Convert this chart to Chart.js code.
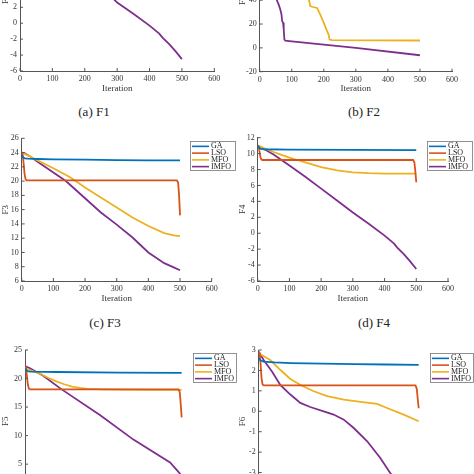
<!DOCTYPE html>
<html>
<head>
<meta charset="utf-8">
<script src="https://cdn.jsdelivr.net/npm/chart.js@4.4.1/dist/chart.umd.min.js"></script>
<style>
  html, body { margin: 0; padding: 0; background: #fff; }
  #wrap { position: relative; width: 474px; height: 474px; overflow: hidden; }
  canvas { position: absolute; }
  .cap { position: absolute; transform: translate(-50%, -50%); font: 13px 'Liberation Serif', 'Times New Roman', serif; color: #222; white-space: nowrap; }
</style>
</head>
<body>
<div id="wrap">
  <div class="cap" style="left:94px; top:112px">(a) F1</div>
  <div class="cap" style="left:364px; top:112px">(b) F2</div>
  <div class="cap" style="left:105px; top:323px">(c) F3</div>
  <div class="cap" style="left:374px; top:323px">(d) F4</div>
</div>
<script>
// series names and colours (MATLAB default order)
const names = ['GA', 'LSO', 'MFO', 'IMFO'];
const colors = ['#0072BD', '#D95319', '#EDB120', '#7E2F8E'];

// ---- F1 (only the IMFO tail is inside the crop)
const f1ImfoX = [280, 300, 350, 400, 430, 440, 460, 480, 500];
const f1ImfoY = [3.4, 2.6, 1.2, -0.3, -1.3, -1.8, -2.6, -3.5, -4.5];

// ---- F2
const f2MfoX  = [145, 153, 158, 163, 179, 189, 200, 208, 215, 218, 225, 500];
const f2MfoY  = [50, 41, 35, 34.5, 33.5, 28, 21, 15.5, 11, 7, 6.5, 6.2];
const f2ImfoX = [45, 52, 59, 64, 68, 70, 73, 75, 77, 80, 100, 300, 500];
const f2ImfoY = [50, 41, 36.5, 32.5, 28, 22.5, 21, 15.5, 7, 6, 5.5, 0, -6.2];

// ---- F3
const f3GaX   = [0, 5, 10, 20, 50, 100, 200, 300, 400, 500];
const f3GaY   = [23.6, 23.3, 23.2, 23.15, 23.1, 23.05, 23.0, 22.95, 22.92, 22.9];
const f3LsoX  = [0, 3, 6, 9, 12, 15, 100, 300, 490, 494, 497, 500];
const f3LsoY  = [24.0, 23.8, 22.5, 21.0, 20.3, 20.1, 20.1, 20.1, 20.1, 19.8, 18.0, 15.2];
const f3MfoX  = [0, 25, 50, 100, 150, 168, 200, 250, 300, 350, 400, 450, 480, 500];
const f3MfoY  = [24.0, 23.5, 22.9, 21.8, 20.6, 20.1, 19.1, 17.7, 16.3, 14.9, 13.7, 12.7, 12.4, 12.3];
const f3ImfoX = [0, 10, 25, 50, 100, 137, 150, 200, 250, 300, 350, 400, 450, 480, 500];
const f3ImfoY = [24.0, 23.9, 23.5, 22.7, 21.2, 20.1, 19.6, 17.6, 15.6, 13.9, 12.1, 10.0, 8.5, 7.9, 7.5];

// ---- F4
const f4GaX   = [0, 5, 10, 20, 100, 300, 500];
const f4GaY   = [11.0, 10.7, 10.6, 10.55, 10.5, 10.48, 10.45];
const f4LsoX  = [0, 3, 6, 9, 12, 15, 100, 300, 490, 494, 497, 500];
const f4LsoY  = [11.0, 10.9, 10.2, 9.5, 9.25, 9.2, 9.2, 9.2, 9.2, 8.9, 7.8, 6.4];
const f4MfoX  = [0, 25, 50, 75, 100, 125, 150, 200, 250, 300, 350, 400, 450, 500];
const f4MfoY  = [11.0, 10.6, 10.2, 9.85, 9.5, 9.2, 8.9, 8.3, 7.9, 7.65, 7.55, 7.5, 7.48, 7.48];
const f4ImfoX = [0, 10, 50, 100, 150, 200, 250, 300, 350, 400, 430, 440, 460, 480, 500];
const f4ImfoY = [11.0, 10.8, 9.9, 8.5, 7.1, 5.6, 4.1, 2.6, 1.2, -0.3, -1.3, -1.8, -2.6, -3.5, -4.5];

// ---- F5
const f5GaX   = [0, 5, 10, 20, 100, 300, 500];
const f5GaY   = [21.8, 21.4, 21.25, 21.2, 21.15, 21.05, 21.0];
const f5LsoX  = [0, 3, 6, 9, 12, 15, 100, 300, 490, 494, 497, 500];
const f5LsoY  = [22.1, 21.8, 20.5, 19.0, 18.3, 18.1, 18.1, 18.1, 18.1, 17.6, 15.5, 13.2];
const f5MfoX  = [0, 25, 50, 75, 100, 125, 150, 175, 200, 250, 300, 400, 500];
const f5MfoY  = [21.8, 21.3, 20.8, 20.1, 19.5, 19.0, 18.6, 18.35, 18.2, 18.1, 18.05, 18.02, 18.0];
const f5ImfoX = [0, 16, 58, 117, 239, 346, 463, 489, 500];
const f5ImfoY = [22.2, 21.8, 20.5, 18.1, 13.6, 9.3, 5.3, 3.7, 2.9];

// ---- F6
const f6GaX   = [0, 5, 15, 50, 100, 200, 300, 400, 500];
const f6GaY   = [2.6, 2.5, 2.43, 2.39, 2.36, 2.33, 2.31, 2.29, 2.27];
const f6LsoX  = [0, 3, 6, 9, 12, 15, 100, 300, 490, 494, 497, 500];
const f6LsoY  = [2.9, 2.85, 2.3, 1.6, 1.32, 1.27, 1.27, 1.27, 1.27, 1.1, 0.6, 0.15];
const f6MfoX  = [0, 36, 68, 99, 135, 172, 214, 266, 318, 370, 401, 453, 500];
const f6MfoY  = [2.84, 2.51, 2.02, 1.58, 1.25, 0.98, 0.74, 0.57, 0.46, 0.36, 0.16, -0.16, -0.49];
const f6ImfoX = [0, 16, 42, 68, 99, 130, 161, 203, 234, 266, 297, 339, 380, 411, 443];
const f6ImfoY = [2.92, 2.5, 1.94, 1.28, 0.82, 0.41, 0.21, 0.0, -0.16, -0.41, -0.82, -1.47, -2.29, -3.02, -3.7];

const xTicksMax = 600;
const serif = "'Liberation Serif', 'Times New Roman', serif";
const axisColor = '#555';
const textColor = '#333';

function pts(xs, ys) { return xs.map((x, i) => ({ x: x, y: ys[i] })); }

// inward MATLAB-style tick marks
const inTicks = {
  id: 'inTicks',
  afterDraw(chart) {
    const { ctx, chartArea: a, scales: { x, y } } = chart;
    ctx.save();
    ctx.strokeStyle = axisColor;
    ctx.lineWidth = 1;
    ctx.beginPath();
    x.ticks.forEach(t => { const p = x.getPixelForValue(t.value); ctx.moveTo(p, a.bottom); ctx.lineTo(p, a.bottom - 3); });
    y.ticks.forEach(t => { const p = y.getPixelForValue(t.value); ctx.moveTo(a.left, p); ctx.lineTo(a.left + 3, p); });
    ctx.stroke();
    ctx.restore();
  }
};

// boxed legend like MATLAB's
const boxLegend = {
  id: 'boxLegend',
  afterDraw(chart, args, opts) {
    if (!opts || !opts.show) return;
    const ctx = chart.ctx;
    const { x, y, w, h } = opts;
    ctx.save();
    ctx.fillStyle = '#fff';
    ctx.fillRect(x, y, w, h);
    ctx.strokeStyle = '#777';
    ctx.lineWidth = 0.8;
    ctx.strokeRect(x + 0.5, y + 0.5, w - 1, h - 1);
    const rowH = (h - 3) / chart.data.datasets.length;
    ctx.font = '8px ' + serif;
    ctx.textBaseline = 'middle';
    chart.data.datasets.forEach((ds, i) => {
      const cy = y + 2 + rowH * (i + 0.5);
      ctx.strokeStyle = ds.borderColor;
      ctx.lineWidth = 1.6;
      ctx.beginPath();
      ctx.moveTo(x + 2, cy);
      ctx.lineTo(x + 19, cy);
      ctx.stroke();
      ctx.fillStyle = '#222';
      ctx.fillText(ds.label, x + 21, cy);
    });
    ctx.restore();
  }
};

function makeChart(p) {
  const colLeft = p.col === 0 ? 0 : 237;
  const canvasTop = Math.round(p.T - 10);
  const canvasH = Math.round(p.B - canvasTop + 22.5);
  const cv = document.createElement('canvas');
  cv.width = 237;
  cv.height = canvasH;
  cv.style.left = colLeft + 'px';
  cv.style.top = canvasTop + 'px';
  cv.style.width = '237px';
  cv.style.height = canvasH + 'px';
  document.getElementById('wrap').appendChild(cv);

  const yW = p.L - colLeft;
  const xH = canvasH - (p.B - canvasTop);
  const leg = p.legend ? { show: true, x: p.legend[0] - colLeft, y: p.legend[1] - canvasTop, w: p.legend[2], h: p.legend[3] } : { show: false };

  return new Chart(cv, {
    type: 'line',
    data: {
      datasets: p.series.map(s => ({
        label: names[s.k],
        data: pts(s.x, s.y),
        borderColor: colors[s.k],
        backgroundColor: colors[s.k],
        borderWidth: 1.8,
        pointRadius: 0,
        tension: 0,
        fill: false
      }))
    },
    options: {
      responsive: false,
      animation: false,
      events: [],
      layout: { padding: { left: 0, top: p.T - canvasTop, right: colLeft + 237 - p.R, bottom: 0 } },
      plugins: { legend: { display: false }, tooltip: { enabled: false }, boxLegend: leg },
      scales: {
        x: {
          type: 'linear', min: 0, max: xTicksMax,
          ticks: { stepSize: 100, padding: 3, maxRotation: 0, color: textColor, font: { family: serif, size: 8 } },
          grid: { display: false, drawTicks: false },
          border: { display: true, color: axisColor, width: 1 },
          title: { display: true, text: 'Iteration', color: textColor, padding: 0, font: { family: serif, size: 9 } },
          afterFit(s) { s.height = xH; }
        },
        y: {
          min: p.ymin, max: p.ymax,
          ticks: { stepSize: p.step, padding: 3, color: textColor, font: { family: serif, size: 8 } },
          grid: { display: false, drawTicks: false },
          border: { display: true, color: axisColor, width: 1 },
          title: { display: true, text: p.name, color: textColor, padding: 0, font: { family: serif, size: 9 } },
          afterFit(s) { s.width = yW; }
        }
      }
    },
    plugins: [inTicks, boxLegend]
  });
}

const panels = [
  { name: 'F1', col: 0, L: 20, R: 214.3, T: -72.3, B: 71, ymin: -6, ymax: 12, step: 2,
    series: [{ k: 3, x: f1ImfoX, y: f1ImfoY }] },
  { name: 'F2', col: 1, L: 259.7, R: 452, T: -71.3, B: 71.7, ymin: -20, ymax: 100, step: 20,
    series: [{ k: 2, x: f2MfoX, y: f2MfoY }, { k: 3, x: f2ImfoX, y: f2ImfoY }] },
  { name: 'F3', col: 0, L: 21.7, R: 211.7, T: 138.3, B: 281, ymin: 6, ymax: 26, step: 2, legend: [190, 141, 46, 30],
    series: [{ k: 0, x: f3GaX, y: f3GaY }, { k: 1, x: f3LsoX, y: f3LsoY }, { k: 2, x: f3MfoX, y: f3MfoY }, { k: 3, x: f3ImfoX, y: f3ImfoY }] },
  { name: 'F4', col: 1, L: 257.7, R: 448, T: 137.7, B: 281, ymin: -6, ymax: 12, step: 2, legend: [427, 141, 46, 30],
    series: [{ k: 0, x: f4GaX, y: f4GaY }, { k: 1, x: f4LsoX, y: f4LsoY }, { k: 2, x: f4MfoX, y: f4MfoY }, { k: 3, x: f4ImfoX, y: f4ImfoY }] },
  { name: 'F5', col: 0, L: 25, R: 213, T: 350, B: 492.7, ymin: 0, ymax: 25, step: 5, legend: [193, 353, 44, 30],
    series: [{ k: 0, x: f5GaX, y: f5GaY }, { k: 1, x: f5LsoX, y: f5LsoY }, { k: 2, x: f5MfoX, y: f5MfoY }, { k: 3, x: f5ImfoX, y: f5ImfoY }] },
  { name: 'F6', col: 1, L: 258.7, R: 450.7, T: 350, B: 493, ymin: -4, ymax: 3, step: 1, legend: [430, 353, 44, 30],
    series: [{ k: 0, x: f6GaX, y: f6GaY }, { k: 1, x: f6LsoX, y: f6LsoY }, { k: 2, x: f6MfoX, y: f6MfoY }, { k: 3, x: f6ImfoX, y: f6ImfoY }] }
];

panels.forEach(makeChart);
</script>
</body>
</html>
